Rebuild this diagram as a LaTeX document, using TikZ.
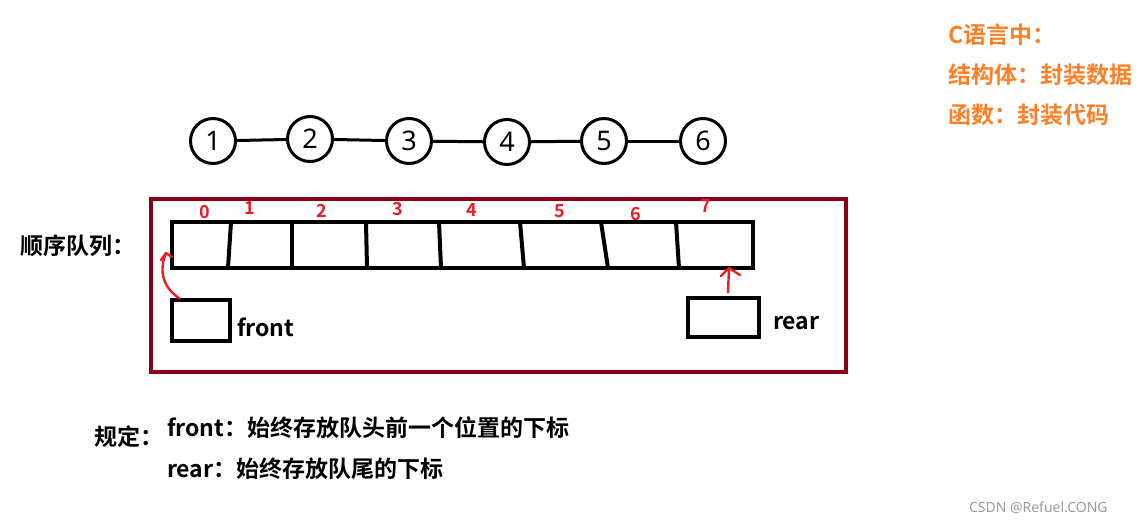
\documentclass[tikz,border=0pt]{standalone}
\usepackage{fontspec}
\setmainfont{Noto Sans}
\newfontfamily\cjkb{Noto Sans CJK SC Bold}
\newfontfamily\cjk{Noto Sans CJK SC}
\usetikzlibrary{arrows.meta,calc}
\definecolor{pdred}{HTML}{880015}
\definecolor{pred}{HTML}{ED1C24}
\definecolor{porange}{HTML}{FF7F27}
\definecolor{wm}{HTML}{9A9A9A}
\begin{document}
\begin{tikzpicture}[x=1pt,y=-1pt,
  every node/.style={inner sep=0pt,outer sep=0pt},
  ball/.style={circle,draw=black,line width=3pt,minimum size=45pt,font=\fontsize{27}{27}\selectfont},
  link/.style={draw=black,line width=3pt},
  cell/.style={draw=black,line width=4pt},
  ptrbox/.style={draw=black,line width=4pt,rectangle},
  idx/.style={text=pred,font=\cjkb\fontsize{18}{18}\selectfont},
  lbl/.style={anchor=west,font=\cjkb\fontsize{23}{23}\selectfont},
  note/.style={anchor=west,text=porange,font=\cjkb\fontsize{23}{23}\selectfont},
  redline/.style={draw=pred,line width=2.4pt,line cap=round,line join=round}
]
\useasboundingbox (0,0) rectangle (1144,523);
\fill[white] (0,0) rectangle (1144,523);

% linked list circles
\node[ball] (c1) at (213,141) {1};
\node[ball] (c2) at (310,139) {2};
\node[ball] (c3) at (409,141) {3};
\node[ball] (c4) at (507,142) {4};
\node[ball] (c5) at (604,141) {5};
\node[ball] (c6) at (703,141) {6};
\draw[link] (c1) -- (c2);
\draw[link] (c2) -- (c3);
\draw[link] (c3) -- (c4);
\draw[link] (c4) -- (c5);
\draw[link] (c5) -- (c6);

% outer frame
\node[draw=pdred,line width=4pt,minimum width=695pt,minimum height=173pt] (frame) at (498.5,285.5) {};

% array
\node[cell,minimum width=581pt,minimum height=46pt] (arr) at (462.5,245) {};
\draw[cell] (231,222) -- (228,268);
\draw[cell] (292,222) -- (292,268);
\draw[cell] (366,222) -- (367,268);
\draw[cell] (439,222) -- (441,268);
\draw[cell] (520,222) -- (524,268);
\draw[cell] (601,222) -- (608,268);
\draw[cell] (676,222) -- (679,268);

% indices
\node[idx] (i0) at (205,212) {0};
\node[idx] (i1) at (250,208) {1};
\node[idx] (i2) at (322,211) {2};
\node[idx] (i3) at (398,209) {3};
\node[idx] (i4) at (472,210) {4};
\node[idx] (i5) at (560,211) {5};
\node[idx] (i6) at (636,214) {6};
\node[idx] (i7) at (706,206) {7};

% pointer boxes
\node[ptrbox,minimum width=58pt,minimum height=41pt] (fb) at (200.5,320) {};
\node[lbl,anchor=west] (fl) at (237,327) {front};
\node[ptrbox,minimum width=71pt,minimum height=39pt] (rb) at (723,317) {};
\node[lbl,anchor=west] (rl) at (773,323) {rear};

\coordinate (fa) at (166,253);
\coordinate (ra) at (729,268);
\draw[redline] ($(fb.north west)+(8,-1)$) .. controls (160,285) and (160,268) .. (fa);
\draw[redline] (fa) ++(-5,7) -- (fa) -- ++(6,4);
\draw[redline] ($(rb.north)+(5,-5)$) -- (ra);
\draw[redline] (ra) ++(-8,8) -- (ra) -- ++(11,7);

% labels
\node[lbl] (q) at (20,246) {顺序队列：};
\node[note] (n1) at (948,35) {C语言中：};
\node[note] (n2) at (948,75) {结构体：封装数据};
\node[note] (n3) at (948,115) {函数：封装代码};

\node[lbl] (g) at (94,437) {规定：};
\node[lbl] (r1) at (167,428) {front：始终存放队头前一个位置的下标};
\node[lbl] (r2) at (167,469) {rear：始终存放队尾的下标};

\node[anchor=west,text=wm,font=\fontsize{14}{14}\selectfont] (w) at (969,508) {CSDN @Refuel.CONG};
\end{tikzpicture}
\end{document}
